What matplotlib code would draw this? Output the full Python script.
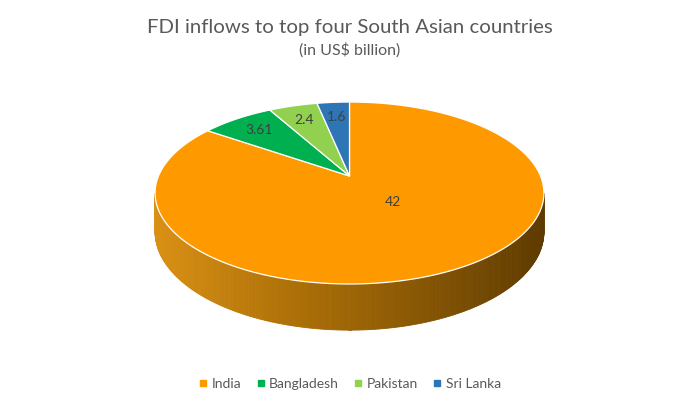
import matplotlib
matplotlib.use('Agg')
import matplotlib.pyplot as plt
import numpy as np
from matplotlib.colors import LinearSegmentedColormap
from matplotlib.patches import Polygon

countries = ['India', 'Bangladesh', 'Pakistan', 'Sri Lanka']
fdi = [42, 3.61, 2.4, 1.6]
labels = ['42', '3.61', '2.4', '1.6']
colors = ['#FF9900', '#00B050', '#92D050', '#2E75B6']

plt.rcParams['font.family'] = ['Lato', 'DejaVu Sans']

# fake perspective for the tilted pie (screen pixels)
cx, cy = 349.5, 176.0
a, b, k = 191.0, 87.8, 0.187
depth = 37.5


def proj(r, t, z=0.0):
    u, v = r * np.cos(t), r * np.sin(t)
    s = 1 + k * v
    return cx + a * u / s, cy - b * v / s + z * depth / s


fig = plt.figure(figsize=(7, 4.07), dpi=100)
ax = fig.add_axes([0, 0, 1, 1])
ax.set_xlim(0, 700)
ax.set_ylim(407, 0)
ax.axis('off')

# side wall (only India reaches the front)
side_cmap = LinearSegmentedColormap.from_list('side', ['#DA9014', '#B07208', '#8A5804', '#5E3B00'])
t0 = np.pi + np.arcsin(k)
t1 = 2 * np.pi - np.arcsin(k)
ts = np.linspace(t0, t1, 240)
xl, _ = proj(1, t0)
xr, _ = proj(1, t1)
for i in range(len(ts) - 1):
    xa, ya = proj(1, ts[i])
    xb, yb = proj(1, ts[i + 1])
    _, ya2 = proj(1, ts[i], 1)
    _, yb2 = proj(1, ts[i + 1], 1)
    c = side_cmap(((xa + xb) / 2 - xl) / (xr - xl))
    ax.add_patch(Polygon([(xa, ya), (xb, yb), (xb, yb2), (xa, ya2)],
                         closed=True, facecolor=c, edgecolor=c, lw=0.6))

# top faces, clockwise from 12 o'clock
total = sum(fdi)
start = np.pi / 2
label_r = [0.45, 0.78, 0.78, 0.78]
for val, col, lab, lr in zip(fdi, colors, labels, label_r):
    span = 2 * np.pi * val / total
    tt = np.linspace(start, start - span, max(int(span * 60), 4))
    xs, ys = proj(1, tt)
    pts = [(cx, cy)] + list(zip(xs, ys))
    ax.add_patch(Polygon(pts, closed=True, facecolor=col, edgecolor='#FFFFFF',
                         lw=0.9, joinstyle='round', zorder=3))
    mid = start - span / 2
    lx, ly = proj(lr, mid)
    if val == max(fdi):
        ly -= 12
    ax.text(lx, ly, lab, ha='center', va='center', fontsize=10,
            color='#404040', zorder=5)
    start -= span

# title
fig.text(0.5, 1 - 27 / 407, 'FDI inflows to top four South Asian countries',
         ha='center', va='center', fontsize=14.7, color='#595959')
fig.text(0.5, 1 - 50 / 407, '(in US$ billion)', ha='center', va='center',
         fontsize=11.5, color='#595959')

handles = [plt.Line2D([], [], marker='s', linestyle='none', markersize=5,
                      markerfacecolor=c, markeredgecolor=c) for c in colors]
fig.legend(handles, countries, loc='center', bbox_to_anchor=(0.5, 1 - 384 / 407),
           ncol=4, frameon=False, fontsize=10, labelcolor='#595959',
           handlelength=0.6, handletextpad=0.3, columnspacing=1.1)

fig.savefig('out.png', dpi=100, facecolor='white')
